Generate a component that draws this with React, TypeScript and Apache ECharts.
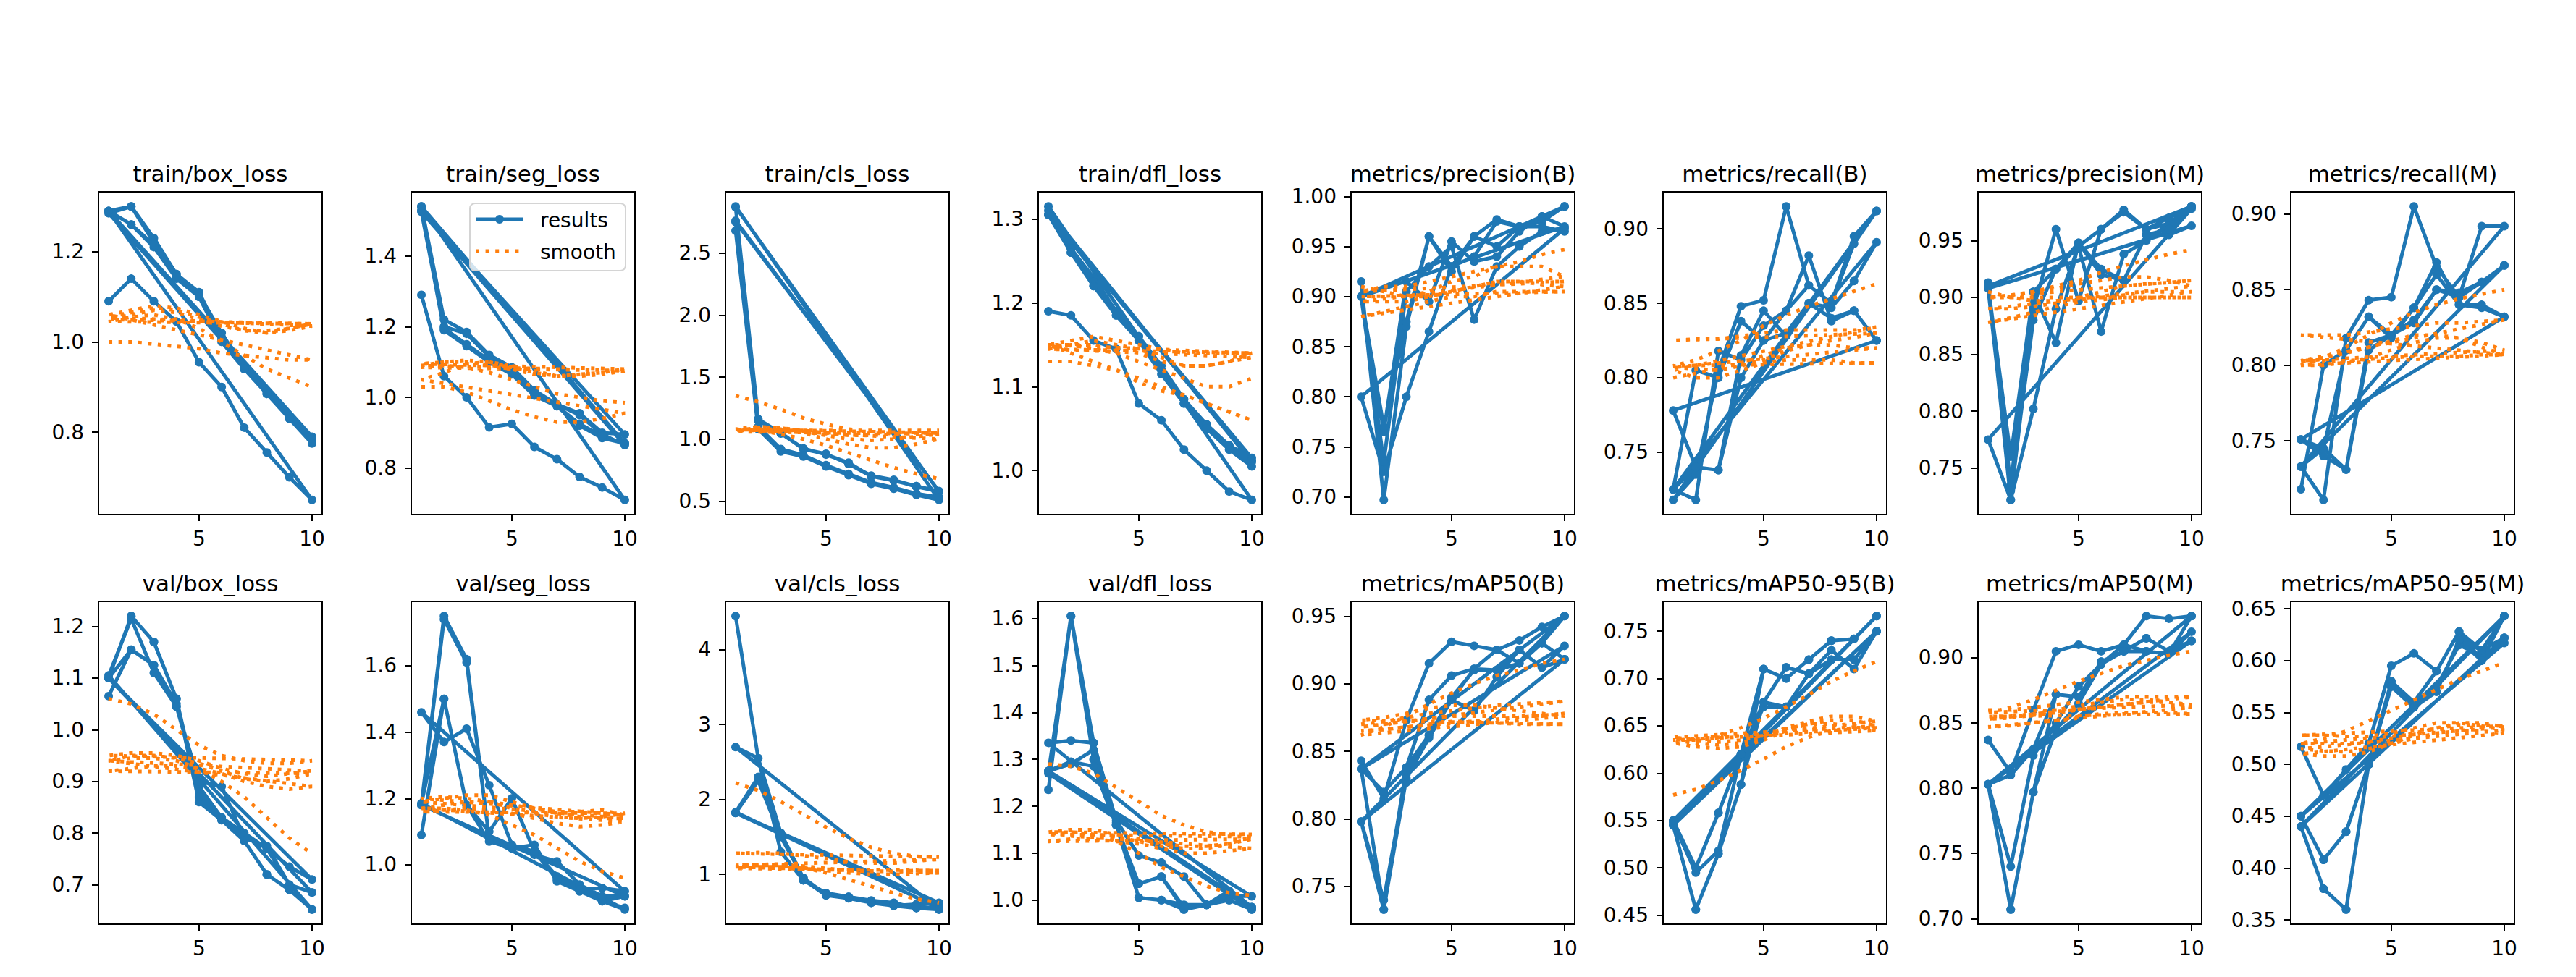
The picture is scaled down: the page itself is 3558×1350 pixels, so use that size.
import React, { useEffect, useRef } from "react";
import * as echarts from "echarts";

const epochs = [1, 2, 3, 4, 5, 6, 7, 8, 9, 10];
const xTicks = [5, 10];

// ---------- train/box_loss ----------
const trainBoxLossRuns = [
  [1.09, 1.14, 1.09, 1.045, 0.955, 0.9, 0.81, 0.755, 0.7, 0.65],
  [1.29, 1.3, 1.23, 1.15, 1.105, 1.02, 0.94, 0.89, 0.835, 0.79],
  [1.29, 1.26, 1.21, 1.14, 1.1, 1.0, 0.94, 0.885, 0.83, 0.78],
  [1.285, 1.3, 1.22, 1.15, 1.11, 1.01, 0.945, 0.89, 0.835, 0.785],
  [1.29, 1.26, 1.215, 1.145, 1.1, 1.005, 0.94, 0.885, 0.83, 0.775],
];
const trainBoxLossSmooth = [
  [1.0, 1.0, 0.995, 0.99, 0.985, 0.975, 0.97, 0.965, 0.96, 0.96],
  [1.06, 1.07, 1.08, 1.075, 1.06, 1.045, 1.03, 1.02, 1.025, 1.035],
  [1.055, 1.065, 1.075, 1.07, 1.055, 1.04, 1.025, 1.02, 1.03, 1.04],
  [1.05, 1.06, 1.07, 1.065, 1.05, 1.035, 1.025, 1.025, 1.03, 1.04],
  [1.045, 1.055, 1.06, 1.05, 1.03, 1.0, 0.97, 0.94, 0.92, 0.9],
];
const trainBoxLossTicks = [0.8, 1.0, 1.2];

// ---------- train/seg_loss ----------
const trainSegLossRuns = [
  [1.29, 1.06, 1.0, 0.915, 0.925, 0.86, 0.825, 0.775, 0.745, 0.71],
  [1.54, 1.22, 1.185, 1.12, 1.085, 1.02, 0.98, 0.955, 0.9, 0.895],
  [1.53, 1.19, 1.145, 1.1, 1.065, 1.005, 0.975, 0.92, 0.885, 0.87],
  [1.54, 1.2, 1.18, 1.115, 1.08, 1.015, 0.98, 0.95, 0.895, 0.865],
  [1.525, 1.195, 1.15, 1.105, 1.07, 1.01, 0.975, 0.925, 0.89, 0.87],
];
const trainSegLossSmooth = [
  [1.03, 1.03, 1.015, 0.99, 0.965, 0.945, 0.93, 0.93, 0.94, 0.955],
  [1.05, 1.07, 1.095, 1.1, 1.09, 1.075, 1.06, 1.06, 1.065, 1.075],
  [1.09, 1.1, 1.105, 1.1, 1.085, 1.07, 1.06, 1.065, 1.07, 1.08],
  [1.095, 1.1, 1.1, 1.09, 1.08, 1.065, 1.06, 1.065, 1.07, 1.075],
  [1.085, 1.09, 1.085, 1.07, 1.05, 1.03, 1.01, 1.0, 0.99, 0.985],
];
const trainSegLossTicks = [0.8, 1.0, 1.2, 1.4];

// ---------- train/cls_loss ----------
const trainClsLossRuns = [
  [2.68, 1.08, 0.9, 0.86, 0.78, 0.71, 0.64, 0.6, 0.55, 0.51],
  [2.875, 1.16, 1.05, 0.92, 0.88, 0.8, 0.7, 0.67, 0.62, 0.58],
  [2.76, 1.15, 1.045, 0.925, 0.875, 0.81, 0.7, 0.665, 0.62, 0.575],
  [2.87, 1.16, 1.05, 0.92, 0.88, 0.8, 0.705, 0.67, 0.615, 0.58],
  [2.75, 1.1, 0.92, 0.87, 0.79, 0.72, 0.65, 0.61, 0.56, 0.53],
];
const trainClsLossSmooth = [
  [1.35, 1.3, 1.24, 1.17, 1.12, 1.08, 1.06, 1.05, 1.06, 1.07],
  [1.07, 1.09, 1.09, 1.07, 1.05, 1.03, 1.03, 1.04, 1.05, 1.05],
  [1.08, 1.1, 1.09, 1.06, 1.03, 1.0, 0.99, 1.0, 1.02, 1.04],
  [1.06, 1.08, 1.08, 1.05, 1.0, 0.96, 0.93, 0.93, 0.96, 1.0],
  [1.08, 1.07, 1.04, 1.0, 0.95, 0.89, 0.83, 0.77, 0.72, 0.68],
];
const trainClsLossTicks = [0.5, 1.0, 1.5, 2.0, 2.5];

// ---------- train/dfl_loss ----------
const trainDflLossRuns = [
  [1.19, 1.185, 1.155, 1.145, 1.08, 1.06, 1.025, 1.0, 0.975, 0.965],
  [1.315, 1.265, 1.23, 1.19, 1.16, 1.125, 1.085, 1.055, 1.03, 1.015],
  [1.305, 1.26, 1.22, 1.185, 1.155, 1.115, 1.08, 1.05, 1.028, 1.01],
  [1.31, 1.265, 1.225, 1.19, 1.16, 1.12, 1.085, 1.055, 1.03, 1.012],
  [1.305, 1.26, 1.22, 1.185, 1.155, 1.12, 1.08, 1.05, 1.025, 1.005],
];
const trainDflLossSmooth = [
  [1.13, 1.13, 1.125, 1.12, 1.105, 1.095, 1.09, 1.08, 1.07, 1.06],
  [1.15, 1.155, 1.16, 1.155, 1.15, 1.145, 1.14, 1.14, 1.14, 1.14],
  [1.15, 1.15, 1.155, 1.15, 1.145, 1.135, 1.125, 1.125, 1.13, 1.135],
  [1.145, 1.15, 1.15, 1.145, 1.14, 1.13, 1.125, 1.125, 1.13, 1.14],
  [1.145, 1.15, 1.145, 1.14, 1.13, 1.12, 1.11, 1.1, 1.1, 1.11],
];
const trainDflLossTicks = [1.0, 1.1, 1.2, 1.3];

// ---------- metrics/precision(B) ----------
const precisionBRuns = [
  [0.915, 0.697, 0.87, 0.96, 0.925, 0.96, 0.977, 0.97, 0.98, 0.99],
  [0.9, 0.765, 0.915, 0.895, 0.955, 0.935, 0.94, 0.965, 0.98, 0.97],
  [0.9, 0.735, 0.905, 0.93, 0.95, 0.877, 0.93, 0.95, 0.965, 0.968],
  [0.8, 0.725, 0.8, 0.865, 0.93, 0.96, 0.95, 0.97, 0.975, 0.99],
  [0.9, 0.77, 0.875, 0.96, 0.93, 0.94, 0.975, 0.97, 0.97, 0.965],
];
const precisionBSmooth = [
  [0.91, 0.905, 0.9, 0.9, 0.905, 0.91, 0.915, 0.915, 0.915, 0.915],
  [0.905, 0.91, 0.91, 0.915, 0.92, 0.925, 0.93, 0.93, 0.93, 0.92],
  [0.895, 0.895, 0.895, 0.9, 0.905, 0.91, 0.915, 0.915, 0.912, 0.91],
  [0.88, 0.885, 0.89, 0.895, 0.9, 0.9, 0.905, 0.905, 0.905, 0.905],
  [0.9, 0.9, 0.9, 0.905, 0.915, 0.92, 0.93, 0.935, 0.942, 0.947],
];
const precisionBTicks = [0.7, 0.75, 0.8, 0.85, 0.9, 0.95, 1.0];

// ---------- metrics/recall(B) ----------
const recallBRuns = [
  [0.725, 0.805, 0.8, 0.838, 0.825, 0.845, 0.882, 0.838, 0.845, 0.825],
  [0.778, 0.74, 0.738, 0.815, 0.845, 0.828, 0.85, 0.847, 0.865, 0.891],
  [0.725, 0.718, 0.818, 0.812, 0.835, 0.845, 0.862, 0.85, 0.89, 0.912],
  [0.718, 0.735, 0.805, 0.848, 0.852, 0.915, 0.862, 0.85, 0.895, 0.912],
  [0.725, 0.74, 0.738, 0.8, 0.825, 0.83, 0.85, 0.84, 0.845, 0.825],
];
const recallBSmooth = [
  [0.8, 0.803, 0.806, 0.81, 0.815, 0.82, 0.822, 0.822, 0.82, 0.82],
  [0.807, 0.806, 0.805, 0.808, 0.812, 0.818, 0.822, 0.825, 0.827, 0.83],
  [0.825, 0.826, 0.826, 0.828, 0.83, 0.832, 0.832, 0.832, 0.832, 0.834],
  [0.805, 0.8, 0.8, 0.805, 0.81, 0.812, 0.812, 0.812, 0.81, 0.81],
  [0.808, 0.812, 0.818, 0.825, 0.835, 0.842, 0.848, 0.853, 0.858, 0.863],
];
const recallBTicks = [0.75, 0.8, 0.85, 0.9];

// ---------- metrics/precision(M) ----------
const precisionMRuns = [
  [0.913, 0.722, 0.89, 0.96, 0.897, 0.96, 0.977, 0.96, 0.965, 0.98],
  [0.91, 0.735, 0.905, 0.86, 0.948, 0.92, 0.915, 0.955, 0.955, 0.963],
  [0.908, 0.73, 0.88, 0.925, 0.945, 0.87, 0.938, 0.95, 0.965, 0.978],
  [0.775, 0.722, 0.802, 0.89, 0.945, 0.96, 0.975, 0.96, 0.97, 0.98],
  [0.91, 0.76, 0.905, 0.925, 0.948, 0.925, 0.915, 0.955, 0.96, 0.98],
];
const precisionMSmooth = [
  [0.905, 0.9, 0.897, 0.897, 0.9, 0.905, 0.91, 0.912, 0.913, 0.915],
  [0.9, 0.902, 0.905, 0.908, 0.912, 0.915, 0.918, 0.918, 0.915, 0.91],
  [0.89, 0.89, 0.892, 0.895, 0.898, 0.9, 0.902, 0.905, 0.905, 0.905],
  [0.878, 0.882, 0.887, 0.892, 0.896, 0.898, 0.9, 0.9, 0.9, 0.9],
  [0.9, 0.902, 0.905, 0.91, 0.915, 0.922, 0.928, 0.933, 0.938, 0.942],
];
const precisionMTicks = [0.75, 0.8, 0.85, 0.9, 0.95];

// ---------- metrics/recall(M) ----------
const recallMRuns = [
  [0.718, 0.8, 0.81, 0.832, 0.818, 0.838, 0.868, 0.84, 0.838, 0.832],
  [0.751, 0.745, 0.731, 0.81, 0.82, 0.828, 0.85, 0.848, 0.855, 0.866],
  [0.733, 0.711, 0.818, 0.843, 0.845, 0.905, 0.865, 0.845, 0.892, 0.892],
  [0.733, 0.745, 0.81, 0.832, 0.82, 0.838, 0.86, 0.84, 0.84, 0.832],
  [0.751, 0.74, 0.731, 0.815, 0.82, 0.83, 0.85, 0.845, 0.855, 0.866],
];
const recallMSmooth = [
  [0.8, 0.8, 0.802, 0.805, 0.81, 0.815, 0.818, 0.818, 0.815, 0.81],
  [0.803, 0.803, 0.803, 0.804, 0.805, 0.806, 0.806, 0.806, 0.807, 0.807],
  [0.82, 0.82, 0.82, 0.822, 0.824, 0.826, 0.828, 0.828, 0.829, 0.83],
  [0.803, 0.805, 0.808, 0.812, 0.816, 0.82, 0.82, 0.818, 0.812, 0.807],
  [0.8, 0.805, 0.812, 0.82, 0.828, 0.835, 0.84, 0.844, 0.847, 0.85],
];
const recallMTicks = [0.75, 0.8, 0.85, 0.9];

// ---------- val/box_loss ----------
const valBoxLossRuns = [
  [1.065, 1.155, 1.125, 1.045, 0.89, 0.83, 0.8, 0.77, 0.735, 0.71],
  [1.1, 1.22, 1.17, 1.06, 0.86, 0.825, 0.785, 0.72, 0.69, 0.652],
  [1.105, 1.215, 1.11, 1.045, 0.9, 0.89, 0.79, 0.775, 0.7, 0.685],
  [1.1, 1.155, 1.125, 1.05, 0.88, 0.83, 0.795, 0.77, 0.7, 0.685],
  [1.1, 1.22, 1.17, 1.06, 0.87, 0.825, 0.785, 0.72, 0.69, 0.652],
];
const valBoxLossSmooth = [
  [1.06, 1.05, 1.03, 1.0, 0.97, 0.95, 0.94, 0.935, 0.935, 0.94],
  [0.95, 0.955, 0.955, 0.95, 0.94, 0.925, 0.915, 0.91, 0.915, 0.92],
  [0.94, 0.95, 0.95, 0.945, 0.935, 0.92, 0.905, 0.9, 0.905, 0.915],
  [0.92, 0.925, 0.93, 0.93, 0.925, 0.915, 0.9, 0.89, 0.885, 0.89],
  [0.94, 0.945, 0.945, 0.94, 0.925, 0.9, 0.87, 0.83, 0.79, 0.76],
];
const valBoxLossTicks = [0.7, 0.8, 0.9, 1.0, 1.1, 1.2];

// ---------- val/seg_loss ----------
const valSegLossRuns = [
  [1.09, 1.5, 1.18, 1.1, 1.2, 1.04, 0.965, 0.925, 0.93, 0.92],
  [1.46, 1.37, 1.41, 1.24, 1.06, 1.03, 1.01, 0.94, 0.905, 0.905],
  [1.18, 1.75, 1.62, 1.08, 1.05, 1.06, 0.95, 0.92, 0.89, 0.865],
  [1.185, 1.5, 1.18, 1.07, 1.05, 1.04, 0.96, 0.925, 0.89, 0.905],
  [1.18, 1.74, 1.61, 1.08, 1.06, 1.04, 0.955, 0.92, 0.89, 0.87],
];
const valSegLossSmooth = [
  [1.17, 1.18, 1.19, 1.19, 1.18, 1.17, 1.155, 1.145, 1.14, 1.14],
  [1.19, 1.2, 1.21, 1.21, 1.19, 1.17, 1.16, 1.16, 1.165, 1.15],
  [1.2, 1.205, 1.2, 1.19, 1.17, 1.155, 1.145, 1.14, 1.145, 1.155],
  [1.16, 1.165, 1.17, 1.165, 1.155, 1.14, 1.125, 1.115, 1.12, 1.13],
  [1.17, 1.17, 1.165, 1.15, 1.12, 1.09, 1.05, 1.01, 0.98, 0.96],
];
const valSegLossTicks = [1.0, 1.2, 1.4, 1.6];

// ---------- val/cls_loss ----------
const valClsLossRuns = [
  [4.45, 2.55, 1.3, 0.92, 0.75, 0.7, 0.65, 0.62, 0.55, 0.53],
  [2.7, 2.55, 1.55, 0.95, 0.72, 0.68, 0.62, 0.58, 0.6, 0.62],
  [1.82, 2.3, 1.55, 0.92, 0.74, 0.7, 0.64, 0.6, 0.56, 0.55],
  [1.82, 2.25, 1.5, 0.95, 0.73, 0.69, 0.63, 0.59, 0.57, 0.55],
  [1.83, 2.3, 1.55, 0.93, 0.72, 0.68, 0.62, 0.58, 0.55, 0.53],
];
const valClsLossSmooth = [
  [2.22, 2.12, 1.97, 1.8, 1.63, 1.48, 1.36, 1.28, 1.24, 1.23],
  [1.28, 1.29, 1.28, 1.25, 1.21, 1.17, 1.15, 1.15, 1.18, 1.2],
  [1.12, 1.13, 1.13, 1.11, 1.08, 1.05, 1.04, 1.04, 1.05, 1.05],
  [1.08, 1.1, 1.1, 1.08, 1.05, 1.02, 1.0, 1.0, 1.01, 1.02],
  [1.1, 1.12, 1.12, 1.09, 1.02, 0.93, 0.84, 0.75, 0.67, 0.62],
];
const valClsLossTicks = [1, 2, 3, 4];

// ---------- val/dfl_loss ----------
const valDflLossRuns = [
  [1.235, 1.605, 1.335, 1.16, 1.035, 1.05, 0.98, 0.99, 1.02, 0.985],
  [1.335, 1.34, 1.335, 1.17, 1.095, 1.08, 1.05, 0.99, 1.01, 1.008],
  [1.275, 1.29, 1.32, 1.165, 1.005, 1.0, 0.99, 0.99, 1.0, 0.98],
  [1.27, 1.605, 1.3, 1.16, 1.035, 1.05, 0.985, 0.99, 1.015, 0.985],
  [1.275, 1.295, 1.285, 1.16, 1.005, 1.0, 0.98, 0.99, 1.0, 0.98],
];
const valDflLossSmooth = [
  [1.29, 1.285, 1.27, 1.24, 1.21, 1.18, 1.16, 1.145, 1.14, 1.14],
  [1.145, 1.15, 1.15, 1.14, 1.13, 1.12, 1.115, 1.115, 1.12, 1.135],
  [1.14, 1.145, 1.14, 1.135, 1.125, 1.115, 1.11, 1.11, 1.12, 1.13],
  [1.125, 1.13, 1.13, 1.125, 1.12, 1.11, 1.1, 1.1, 1.105, 1.11],
  [1.14, 1.145, 1.14, 1.125, 1.1, 1.07, 1.05, 1.03, 1.015, 1.01],
];
const valDflLossTicks = [1.0, 1.1, 1.2, 1.3, 1.4, 1.5, 1.6];

// ---------- metrics/mAP50(B) ----------
const map50BRuns = [
  [0.843, 0.815, 0.873, 0.915, 0.931, 0.928, 0.925, 0.932, 0.942, 0.95],
  [0.837, 0.733, 0.838, 0.888, 0.906, 0.911, 0.91, 0.925, 0.912, 0.918],
  [0.798, 0.74, 0.833, 0.862, 0.888, 0.911, 0.925, 0.915, 0.93, 0.95],
  [0.798, 0.733, 0.83, 0.86, 0.888, 0.88, 0.905, 0.925, 0.912, 0.928],
  [0.837, 0.82, 0.838, 0.862, 0.89, 0.91, 0.91, 0.915, 0.93, 0.918],
];
const map50BSmooth = [
  [0.87, 0.872, 0.875, 0.878, 0.88, 0.882, 0.884, 0.885, 0.886, 0.887],
  [0.868, 0.87, 0.872, 0.874, 0.876, 0.876, 0.876, 0.876, 0.876, 0.878],
  [0.865, 0.866, 0.868, 0.87, 0.872, 0.872, 0.871, 0.87, 0.87, 0.87],
  [0.873, 0.875, 0.878, 0.882, 0.884, 0.884, 0.882, 0.88, 0.878, 0.876],
  [0.862, 0.868, 0.876, 0.885, 0.893, 0.9, 0.906, 0.91, 0.915, 0.918],
];
const map50BTicks = [0.75, 0.8, 0.85, 0.9, 0.95];

// ---------- metrics/mAP50-95(B) ----------
const map5095BRuns = [
  [0.55, 0.5, 0.558, 0.62, 0.71, 0.7, 0.72, 0.74, 0.742, 0.766],
  [0.545, 0.456, 0.515, 0.588, 0.675, 0.712, 0.705, 0.73, 0.71, 0.75],
  [0.548, 0.495, 0.518, 0.62, 0.67, 0.67, 0.705, 0.72, 0.72, 0.75],
  [0.545, 0.456, 0.515, 0.588, 0.71, 0.7, 0.72, 0.74, 0.742, 0.766],
  [0.55, 0.5, 0.558, 0.62, 0.675, 0.67, 0.705, 0.72, 0.72, 0.75],
];
const map5095BSmooth = [
  [0.577, 0.583, 0.592, 0.603, 0.615, 0.628, 0.638, 0.645, 0.648, 0.648],
  [0.635, 0.632, 0.63, 0.632, 0.638, 0.648, 0.655, 0.66, 0.66, 0.655],
  [0.632, 0.628, 0.626, 0.628, 0.635, 0.645, 0.652, 0.656, 0.656, 0.65],
  [0.638, 0.635, 0.633, 0.635, 0.64, 0.647, 0.652, 0.652, 0.65, 0.645],
  [0.635, 0.635, 0.64, 0.648, 0.658, 0.67, 0.683, 0.697, 0.708, 0.718],
];
const map5095BTicks = [0.45, 0.5, 0.55, 0.6, 0.65, 0.7, 0.75];

// ---------- metrics/mAP50(M) ----------
const map50MRuns = [
  [0.837, 0.812, 0.86, 0.905, 0.91, 0.905, 0.91, 0.932, 0.93, 0.932],
  [0.803, 0.707, 0.797, 0.872, 0.87, 0.897, 0.905, 0.915, 0.905, 0.913],
  [0.803, 0.74, 0.825, 0.85, 0.878, 0.895, 0.91, 0.905, 0.903, 0.92],
  [0.803, 0.707, 0.797, 0.845, 0.865, 0.895, 0.905, 0.915, 0.905, 0.913],
  [0.803, 0.81, 0.83, 0.872, 0.87, 0.897, 0.905, 0.905, 0.903, 0.932],
];
const map50MSmooth = [
  [0.86, 0.86, 0.862, 0.864, 0.866, 0.868, 0.87, 0.87, 0.87, 0.87],
  [0.853, 0.854, 0.856, 0.858, 0.86, 0.862, 0.864, 0.866, 0.866, 0.862],
  [0.847, 0.848, 0.85, 0.852, 0.855, 0.857, 0.858, 0.858, 0.858, 0.857],
  [0.855, 0.855, 0.857, 0.86, 0.863, 0.866, 0.868, 0.868, 0.866, 0.864],
  [0.858, 0.862, 0.868, 0.875, 0.882, 0.888, 0.894, 0.898, 0.902, 0.905],
];
const map50MTicks = [0.7, 0.75, 0.8, 0.85, 0.9];

// ---------- metrics/mAP50-95(M) ----------
const map5095MRuns = [
  [0.517, 0.47, 0.495, 0.52, 0.595, 0.607, 0.59, 0.628, 0.61, 0.643],
  [0.45, 0.408, 0.435, 0.5, 0.575, 0.56, 0.57, 0.62, 0.6, 0.622],
  [0.44, 0.38, 0.36, 0.5, 0.58, 0.555, 0.575, 0.615, 0.605, 0.617],
  [0.45, 0.408, 0.435, 0.5, 0.58, 0.56, 0.59, 0.628, 0.6, 0.643],
  [0.44, 0.38, 0.36, 0.5, 0.575, 0.555, 0.57, 0.62, 0.61, 0.622],
];
const map5095MSmooth = [
  [0.52, 0.52, 0.52, 0.522, 0.525, 0.53, 0.535, 0.538, 0.538, 0.537],
  [0.528, 0.528, 0.527, 0.527, 0.53, 0.535, 0.54, 0.54, 0.537, 0.533],
  [0.515, 0.513, 0.512, 0.515, 0.52, 0.525, 0.53, 0.532, 0.532, 0.53],
  [0.51, 0.508, 0.508, 0.512, 0.52, 0.528, 0.535, 0.54, 0.54, 0.536],
  [0.52, 0.525, 0.532, 0.542, 0.552, 0.562, 0.572, 0.582, 0.59, 0.598],
];
const map5095MTicks = [0.35, 0.4, 0.45, 0.5, 0.55, 0.6, 0.65];

const panels = [
  { title: "train/box_loss", runs: trainBoxLossRuns, smooth: trainBoxLossSmooth, ticks: trainBoxLossTicks, dec: 1 },
  { title: "train/seg_loss", runs: trainSegLossRuns, smooth: trainSegLossSmooth, ticks: trainSegLossTicks, dec: 1 },
  { title: "train/cls_loss", runs: trainClsLossRuns, smooth: trainClsLossSmooth, ticks: trainClsLossTicks, dec: 1 },
  { title: "train/dfl_loss", runs: trainDflLossRuns, smooth: trainDflLossSmooth, ticks: trainDflLossTicks, dec: 1 },
  { title: "metrics/precision(B)", runs: precisionBRuns, smooth: precisionBSmooth, ticks: precisionBTicks, dec: 2 },
  { title: "metrics/recall(B)", runs: recallBRuns, smooth: recallBSmooth, ticks: recallBTicks, dec: 2 },
  { title: "metrics/precision(M)", runs: precisionMRuns, smooth: precisionMSmooth, ticks: precisionMTicks, dec: 2 },
  { title: "metrics/recall(M)", runs: recallMRuns, smooth: recallMSmooth, ticks: recallMTicks, dec: 2 },
  { title: "val/box_loss", runs: valBoxLossRuns, smooth: valBoxLossSmooth, ticks: valBoxLossTicks, dec: 1 },
  { title: "val/seg_loss", runs: valSegLossRuns, smooth: valSegLossSmooth, ticks: valSegLossTicks, dec: 1 },
  { title: "val/cls_loss", runs: valClsLossRuns, smooth: valClsLossSmooth, ticks: valClsLossTicks, dec: 0 },
  { title: "val/dfl_loss", runs: valDflLossRuns, smooth: valDflLossSmooth, ticks: valDflLossTicks, dec: 1 },
  { title: "metrics/mAP50(B)", runs: map50BRuns, smooth: map50BSmooth, ticks: map50BTicks, dec: 2 },
  { title: "metrics/mAP50-95(B)", runs: map5095BRuns, smooth: map5095BSmooth, ticks: map5095BTicks, dec: 2 },
  { title: "metrics/mAP50(M)", runs: map50MRuns, smooth: map50MSmooth, ticks: map50MTicks, dec: 2 },
  { title: "metrics/mAP50-95(M)", runs: map5095MRuns, smooth: map5095MSmooth, ticks: map5095MTicks, dec: 2 },
];

const FONT = "DejaVu Sans";
const BLUE = "#1f77b4";
const ORANGE = "#ff7f0e";
const COL_LEFTS = [136, 568, 1002, 1434, 1866, 2297, 2732, 3164];
const ROW_TOPS = [265, 831];
const PLOT_W = 309;
const PLOT_H = 446;

function buildOption() {
  const grid: any[] = [];
  const xAxis: any[] = [];
  const yAxis: any[] = [];
  const series: any[] = [];
  const graphic: any[] = [];

  panels.forEach((p, i) => {
    const row = Math.floor(i / 8);
    const col = i % 8;
    const left = COL_LEFTS[col];
    const top = ROW_TOPS[row];
    grid.push({
      left,
      top,
      width: PLOT_W,
      height: PLOT_H,
      show: true,
      borderColor: "#000",
      borderWidth: 2,
      backgroundColor: "transparent",
      containLabel: false,
    });
    const all = p.runs.flat().concat(p.smooth.flat());
    const lo = Math.min(...all);
    const hi = Math.max(...all);
    const pad = (hi - lo) * 0.05;
    xAxis.push({
      gridIndex: i,
      type: "value",
      min: 0.55,
      max: 10.45,
      splitLine: { show: false },
      axisLine: { show: false },
      axisTick: { show: true, length: 9, lineStyle: { color: "#000", width: 2 }, customValues: xTicks },
      axisLabel: {
        customValues: xTicks,
        margin: 19,
        fontSize: 28,
        fontFamily: FONT,
        color: "#000",
        formatter: (v: number) => String(v),
      },
    });
    yAxis.push({
      gridIndex: i,
      type: "value",
      min: lo - pad,
      max: hi + pad,
      splitLine: { show: false },
      axisLine: { show: false },
      axisTick: { show: true, length: 9, lineStyle: { color: "#000", width: 2 }, customValues: p.ticks },
      axisLabel: {
        customValues: p.ticks,
        margin: 20,
        fontSize: 28,
        fontFamily: FONT,
        color: "#000",
        formatter: (v: number) => v.toFixed(p.dec),
      },
    });
    series.push({
      type: "line",
      name: "results",
      xAxisIndex: i,
      yAxisIndex: i,
      data: p.runs.flatMap((r) => r.map((v, k) => [epochs[k], v])),
      symbol: "circle",
      symbolSize: 12,
      showSymbol: true,
      showAllSymbol: true,
      itemStyle: { color: BLUE },
      lineStyle: { color: BLUE, width: 5, join: "round", cap: "round" },
      z: 2,
    });
    series.push({
      type: "line",
      name: "smooth",
      xAxisIndex: i,
      yAxisIndex: i,
      data: p.smooth.flatMap((r) => r.map((v, k) => [epochs[k], v])),
      symbol: "none",
      lineStyle: { color: ORANGE, width: 5, type: [5, 8.6], cap: "butt" },
      z: 3,
    });
    graphic.push({
      type: "text",
      x: left + PLOT_W / 2,
      y: top - 10,
      style: {
        text: p.title,
        fill: "#000",
        fontSize: 31,
        fontFamily: FONT,
        textAlign: "center",
        textVerticalAlign: "bottom",
      },
    });
  });

  // legend on train/seg_loss panel
  graphic.push(
    {
      type: "rect",
      z: 100,
      shape: { x: 649, y: 281, width: 215, height: 93, r: 7 },
      style: { fill: "rgba(255,255,255,0.8)", stroke: "#d4d4d4", lineWidth: 2 },
    },
    {
      type: "line",
      z: 101,
      shape: { x1: 657, y1: 303, x2: 723, y2: 303 },
      style: { stroke: BLUE, lineWidth: 5 },
    },
    {
      type: "circle",
      z: 102,
      shape: { cx: 690, cy: 303, r: 6 },
      style: { fill: BLUE },
    },
    {
      type: "line",
      z: 101,
      shape: { x1: 657, y1: 347, x2: 723, y2: 347 },
      style: { stroke: ORANGE, lineWidth: 5, lineDash: [5, 8.6] },
    },
    {
      type: "text",
      z: 101,
      x: 746,
      y: 304,
      style: { text: "results", fill: "#000", fontSize: 28, fontFamily: FONT, textVerticalAlign: "middle" },
    },
    {
      type: "text",
      z: 101,
      x: 746,
      y: 348,
      style: { text: "smooth", fill: "#000", fontSize: 28, fontFamily: FONT, textVerticalAlign: "middle" },
    }
  );

  return {
    animation: false,
    backgroundColor: "#fff",
    grid,
    xAxis,
    yAxis,
    series,
    graphic,
  };
}

export default function App() {
  const ref = useRef<HTMLDivElement>(null);
  useEffect(() => {
    if (!ref.current) return;
    const chart = echarts.init(ref.current, undefined, { renderer: "svg" });
    chart.setOption(buildOption() as any);
    return () => chart.dispose();
  }, []);
  return (
    <div
      ref={ref}
      style={{ position: "fixed", left: 0, top: 0, width: 3558, height: 1350, background: "#fff" }}
    />
  );
}
